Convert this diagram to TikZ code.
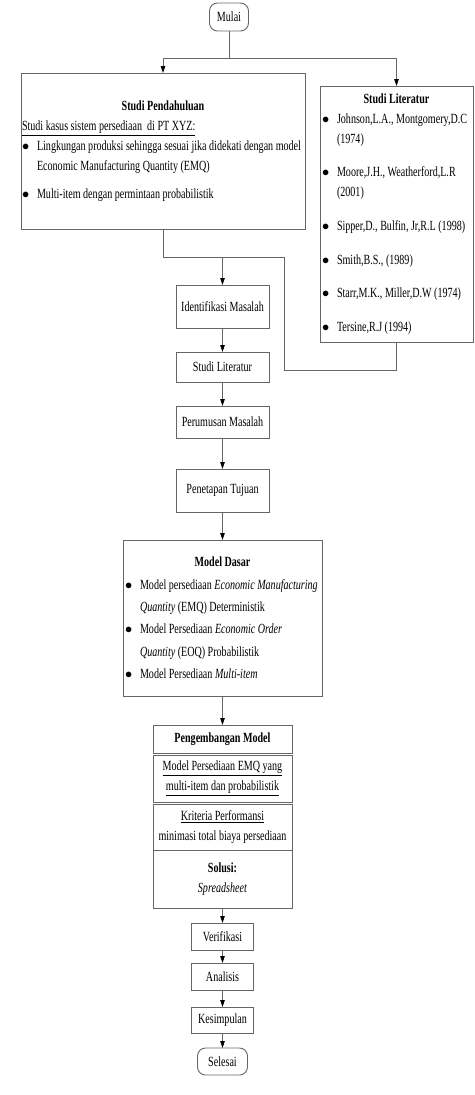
\documentclass[tikz,border=0pt]{standalone}
\usepackage{fontspec}
\setmainfont{Liberation Serif}[FakeStretch=0.72]
\usepackage{tikz}
\usetikzlibrary{positioning, arrows.meta}
\hyphenpenalty=10000
\exhyphenpenalty=10000
\newcommand{\bul}[2][0pt]{\par\vspace{#1}\hangindent=15pt\hangafter=1\noindent\makebox[15pt][l]{$\bullet$}#2}
\tikzset{
box/.style={shape=rectangle, draw=black!60, line width=0.9pt, inner sep=2pt, outer sep=0pt, align=center, font=\fontsize{14}{20}\selectfont}, para/.style={box, align=left}, terminal/.style={box, rounded corners=8pt}, line/.style={draw=black!60, line width=0.9pt}, arr/.style={line, -{Triangle[length=7pt, width=4.5pt, color=black]}}}

\begin{document}
\begin{tikzpicture}[x=1pt, y=-1pt]
\useasboundingbox (0,0) rectangle (474,1095);
\node [terminal, minimum width=39pt, minimum height=28pt] (mulai) at (229,17) {Mulai};
\node [para, inner xsep=1pt, text width=282pt, minimum height=156pt] (pendahuluan) at (163,151) {%
  \spaceskip=0pt\xspaceskip=0pt
  {\centering\textbf{Studi Pendahuluan}\par}
  \noindent\underline{Studi kasus sistem persediaan\ \ di PT XYZ:}
  \bul{Lingkungan produksi sehingga sesuai jika didekati dengan model\newline Economic Manufacturing Quantity (EMQ)}
  \bul[8pt]{Multi-item dengan permintaan probabilistik}};
\node [para, text width=149pt, minimum height=256pt] (literatur) at (396.5,214) {%
  \spaceskip=0pt\xspaceskip=0pt
  {\centering\textbf{Studi Literatur}\par}
  \bul{Johnson,L.A., Montgomery,D.C\newline(1974)}
  \bul[13.6pt]{Moore,J.H., Weatherford,L.R\newline(2001)}
  \bul[13.6pt]{Sipper,D., Bulfin, Jr,R.L (1998)}
  \bul[13.6pt]{Smith,B.S., (1989)}
  \bul[13.6pt]{Starr,M.K., Miller,D.W (1974)}
  \bul[13.6pt]{Tersine,R.J (1994)}};

\node [box, minimum width=93pt, minimum height=43pt] (identifikasi) at (222.5,306.5) {Identifikasi Masalah};
\node [box, minimum width=93pt, minimum height=30pt, below=24pt of identifikasi] (studilit) {Studi Literatur};
\node [box, minimum width=93pt, minimum height=32pt, below=24pt of studilit] (perumusan) {Perumusan Masalah};
\node [box, minimum width=93pt, minimum height=43pt, below=31pt of perumusan] (penetapan) {Penetapan Tujuan};
\node [para, text width=195pt, minimum height=156pt, below=28pt of penetapan, font=\fontsize{14}{22.4}\selectfont] (dasar) {%
  \spaceskip=0pt\xspaceskip=0pt
  {\centering\textbf{Model Dasar}\par}
  \bul{Model persediaan \textit{Economic Manufacturing}\newline\textit{Quantity} (EMQ) Deterministik}
  \bul{Model Persediaan \textit{Economic Order}\newline\textit{Quantity} (EOQ) Probabilistik}
  \bul{Model Persediaan \textit{Multi-item}}};

% pengembangan model
\node [box, minimum width=139pt, minimum height=28pt, below=29pt of dasar] (pengembangan) {\textbf{Pengembangan Model}};
\node [box, minimum width=139pt, minimum height=47pt, below=2pt of pengembangan] (emq) {\underline{Model Persediaan EMQ yang}\\\underline{multi-item dan probabilistik}};
\node [box, minimum width=139pt, minimum height=46pt, below=2pt of emq] (kriteria) {\underline{Kriteria Performansi}\\minimasi total biaya persediaan};
\node [box, minimum width=139pt, minimum height=58pt, below=0pt of kriteria] (solusi) {\textbf{Solusi:}\\\textit{Spreadsheet}};

\node [box, minimum width=62pt, minimum height=27pt, below=15pt of solusi] (verifikasi) {Verifikasi};
\node [box, minimum width=62pt, minimum height=27pt, below=13pt of verifikasi] (analisis) {Analisis};
\node [box, minimum width=62pt, minimum height=26pt, below=17pt of analisis] (kesimpulan) {Kesimpulan};
\node [terminal, minimum width=50pt, minimum height=27pt, below=15pt of kesimpulan] (selesai) {Selesai};

% connectors
\coordinate (split) at (229,58);
\coordinate (merge) at (222.5,257);
\coordinate (litbend) at (284,370);
\draw [line] (mulai) -- (split);
\draw [arr] (split) -| (pendahuluan);
\draw [arr] (split) -| (literatur);
\draw [line] (pendahuluan) |- (merge);
\draw [line] (literatur) |- (litbend) |- (merge);
\draw [arr] (merge) -- (identifikasi);
\foreach \a/\b in {identifikasi/studilit, studilit/perumusan, perumusan/penetapan, penetapan/dasar, dasar/pengembangan, solusi/verifikasi, verifikasi/analisis, analisis/kesimpulan, kesimpulan/selesai}
  \draw [arr] (\a) -- (\b);
\end{tikzpicture}
\end{document}
